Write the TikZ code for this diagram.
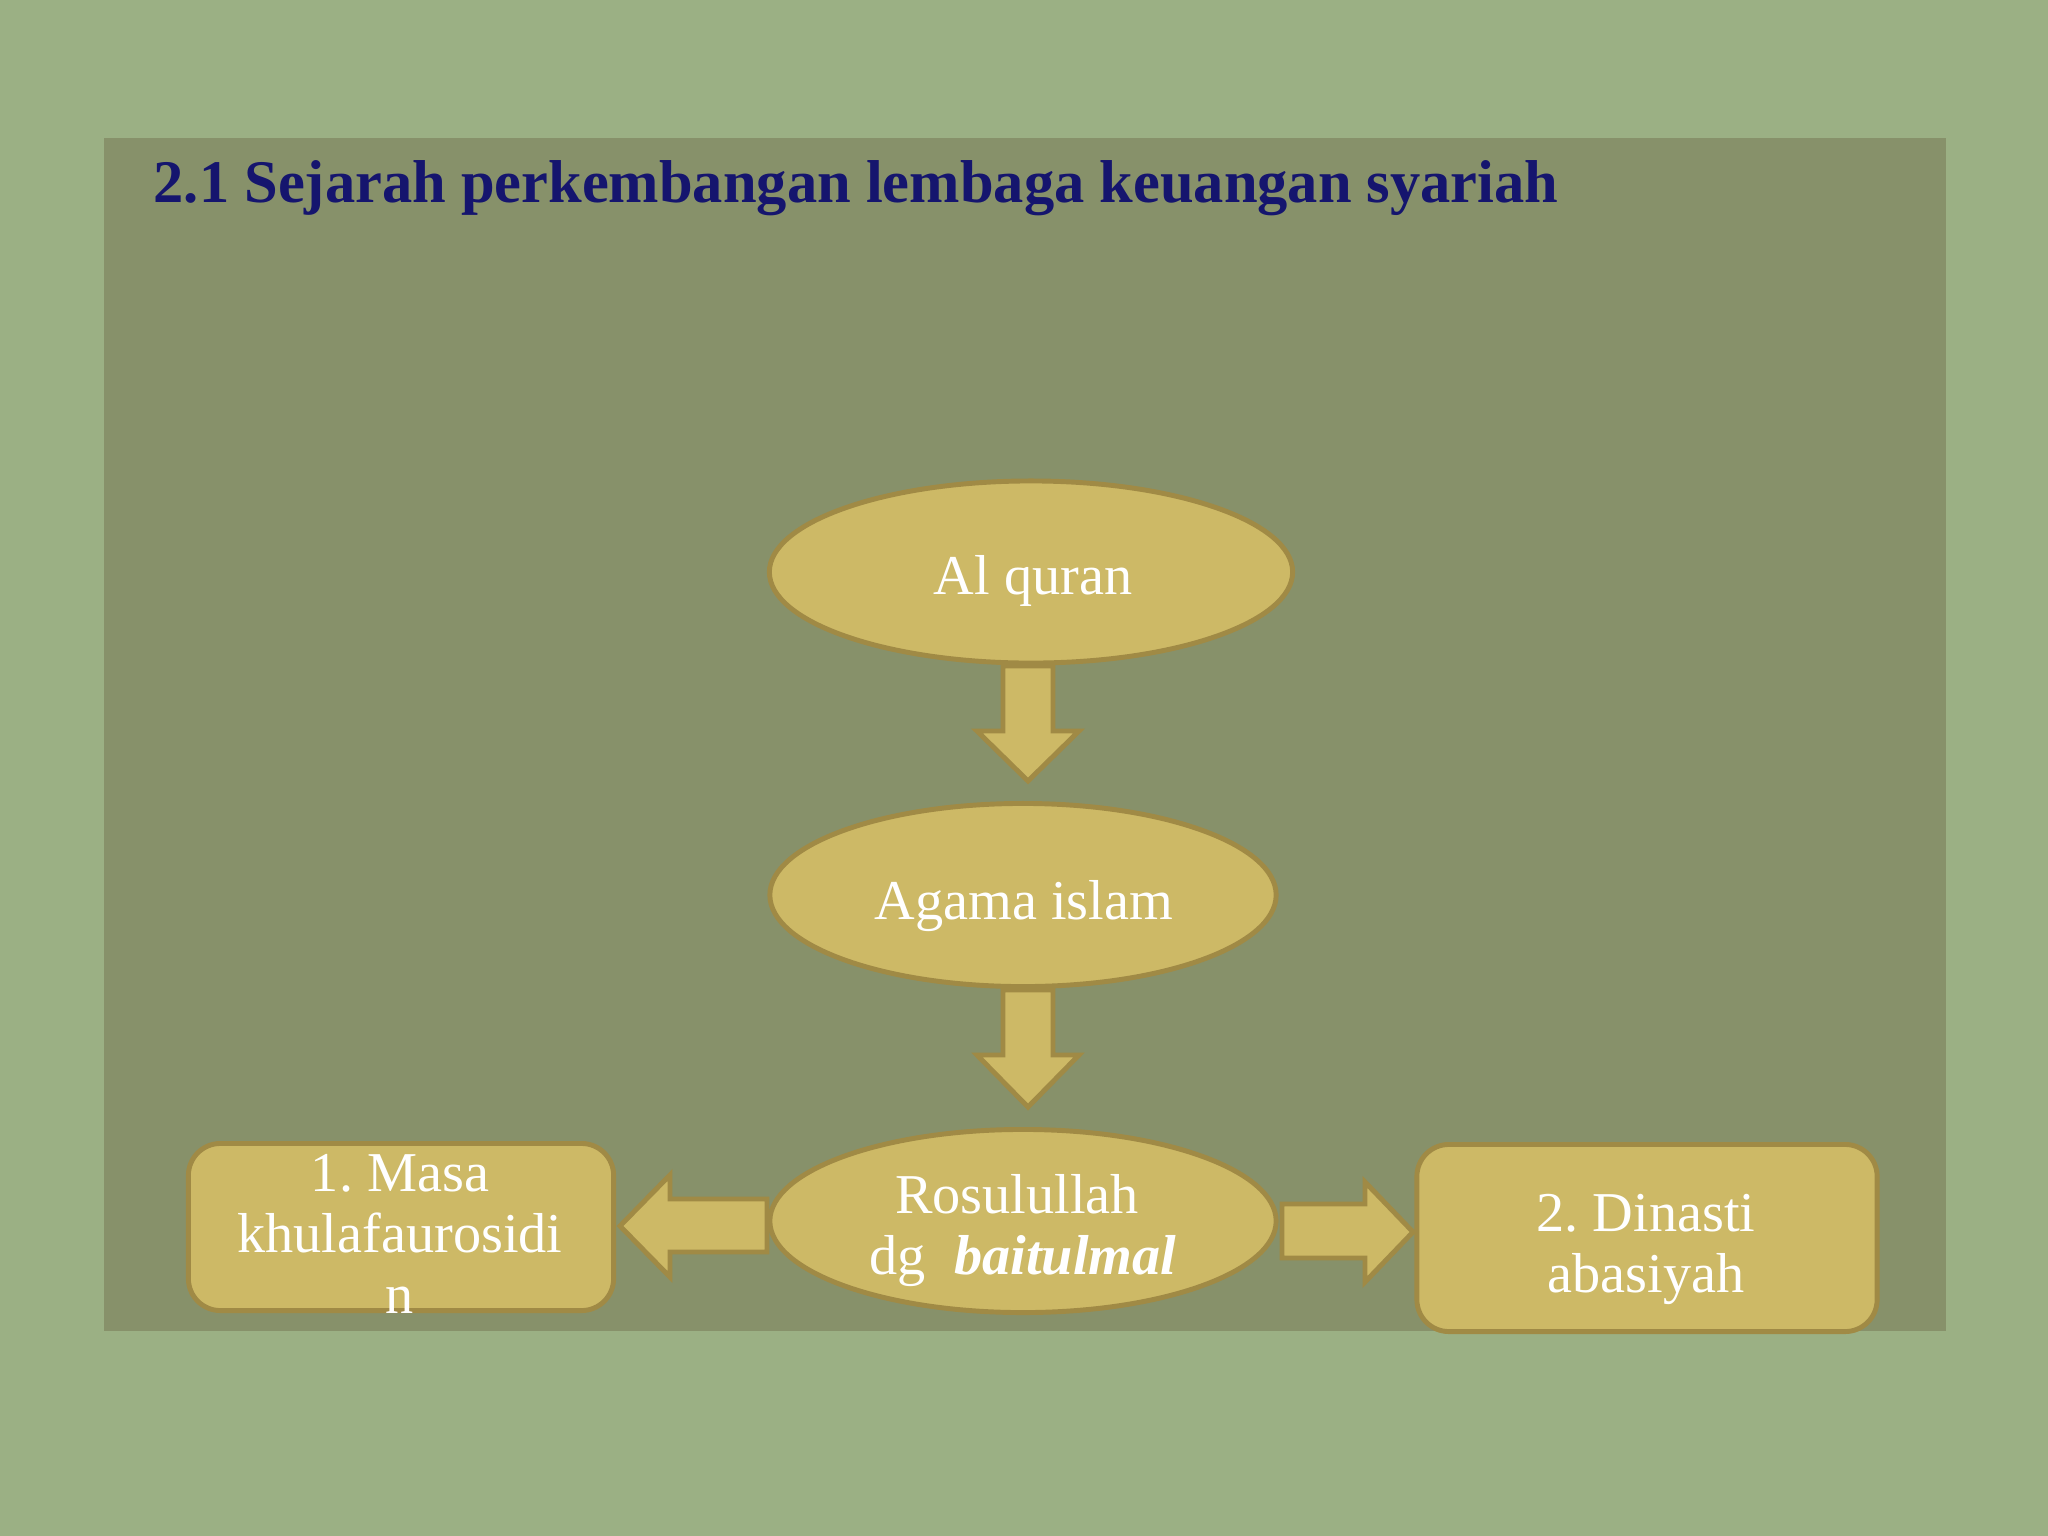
\documentclass[tikz,border=0pt]{standalone}
\usepackage{fontspec}
\setmainfont{Liberation Serif}
\usetikzlibrary{shapes.geometric}
\definecolor{outerbg}{HTML}{9BB084}
\definecolor{panel}{HTML}{87916A}
\definecolor{shapefill}{HTML}{CDB966}
\definecolor{shapeedge}{HTML}{A08A45}
\definecolor{titleblue}{HTML}{15156E}
\frenchspacing
\tikzset{
  boxfill/.style={fill=shapefill, draw=shapeedge, line width=1.4pt, line join=miter},
  ovalnode/.style={boxfill, ellipse, inner sep=0pt},
  roundnode/.style={boxfill, rectangle, rounded corners=0.32cm, inner sep=0pt},
  lbl/.style={text=white, font=\fontsize{16}{17.4}\selectfont, anchor=base, inner sep=0pt},
}
\begin{document}
\begin{tikzpicture}[x=0.01cm,y=-0.01cm]
\useasboundingbox (0,0) rectangle (2048,1536);
\fill[outerbg] (0,0) rectangle (2048,1536);
\fill[panel] (104,138) rectangle (1946,1331);
% title
\node[anchor=base west, text=titleblue, font=\bfseries\fontsize{17.2}{20}\selectfont, inner sep=0pt]
  (title) at (153,202) {2.1 Sejarah perkembangan lembaga keuangan syariah};
% ellipses
\node[ovalnode, minimum width=5.23cm, minimum height=1.82cm] (aq) at (1031,572) {};
\node[lbl] (aqt) at (1033,594) {Al quran};
\node[ovalnode, minimum width=5.06cm, minimum height=1.83cm] (ai) at (1023,895) {};
\node[lbl] (ait) at (1024,919) {Agama islam};
\node[ovalnode, minimum width=5.06cm, minimum height=1.83cm] (ro) at (1023,1221) {};
\node[lbl] (rot1) at (1017,1213) {Rosulullah};
\node[lbl] (rot2) at (1023,1274) {dg\ \ \textbf{\textit{baitulmal}}};
% boxes
\node[roundnode, minimum width=4.25cm, minimum height=1.67cm] (masa) at (401,1227) {};
\node[lbl] (m1) at (400,1191) {1. Masa};
\node[lbl] (m2) at (400,1252) {khulafaurosidi};
\node[lbl] (m3) at (400,1313) {n};
\node[roundnode, minimum width=4.60cm, minimum height=1.87cm] (dina) at (1647,1238) {};
\node[lbl] (d1) at (1646,1231) {2. Dinasti};
\node[lbl] (d2) at (1646,1292) {abasiyah};
% block arrows (anchored at named coordinates)
\coordinate (a1s) at (1028,666);
\coordinate (a1t) at (1028,781);
\draw[boxfill] (a1s) ++(-25,0) -- ++(0,65) -- ++(-26,0) -- (a1t) -- ++(51,-50) -- ++(-26,0) -- ++(0,-65) -- cycle;
\coordinate (a2s) at (1028,990);
\coordinate (a2t) at (1028,1107);
\draw[boxfill] (a2s) ++(-25,0) -- ++(0,65) -- ++(-26,0) -- (a2t) -- ++(51,-52) -- ++(-26,0) -- ++(0,-65) -- cycle;
\coordinate (a3s) at (767,1225);
\coordinate (a3t) at (620,1226);
\draw[boxfill] (a3s) ++(0,-26) -- ++(-97,0) -- ++(0,-24) -- (a3t) -- ++(50,51) -- ++(0,-25) -- ++(97,0) -- cycle;
\coordinate (a4s) at (1282,1230);
\coordinate (a4t) at (1413,1232);
\draw[boxfill] (a4s) ++(0,-26) -- ++(83,0) -- ++(0,-22) -- (a4t) -- ++(-48,50) -- ++(0,-24) -- ++(-83,0) -- cycle;
\end{tikzpicture}
\end{document}
